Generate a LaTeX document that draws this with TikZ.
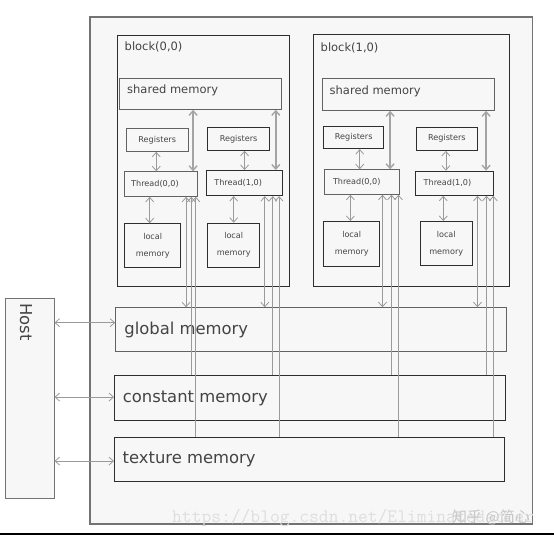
\documentclass[tikz,border=0pt]{standalone}
\usepackage{fontspec}
\setmainfont{DejaVu Sans}
\newfontfamily\cjk{Noto Sans CJK SC}
\usetikzlibrary{arrows.meta}
\definecolor{txt}{HTML}{444444}
\definecolor{edge}{HTML}{2E2E2E}
\definecolor{conn}{HTML}{9A9A9A}
\tikzset{
  box/.style={draw=edge, line width=0.8pt, inner sep=0pt, anchor=north west, text=txt},
  gbox/.style={box, draw=edge!75},
  small/.style={font=\fontsize{8.1}{17}\selectfont, text=txt, inner sep=0pt},
  mid/.style={font=\fontsize{11.5}{14}\selectfont, text=txt, inner sep=0pt, anchor=west},
  big/.style={font=\fontsize{16.4}{19}\selectfont, text=txt, inner sep=0pt, anchor=west},
  tip/.tip={Straight Barb[length=4.5pt,width=8pt]},
  dbl/.style={draw=conn, line width=0.8pt, {tip}-{tip}},
  upar/.style={draw=conn, line width=0.8pt, {tip}-},
  thick dbl/.style={draw=conn!90, line width=1.4pt, {tip}-{tip}}
}
\begin{document}
\begin{tikzpicture}[x=1pt,y=-1pt]
\useasboundingbox (0,0) rectangle (554,535);
\fill[white] (0,0) rectangle (554,535);
% outer device box
\node[box, draw=black!55, line width=1.6pt, fill=black!3, minimum width=442.5pt, minimum height=507pt] (dev) at (89,16) {};
% blocks
\node[box, fill=black!3, minimum width=171.7pt, minimum height=251pt] (b0) at (117.3,35) {};
\node[box, fill=black!3, minimum width=196.6pt, minimum height=251.7pt] (b1) at (312.7,34.3) {};
\node[mid] (lb0) at (124.5,47) {block(0,0)};
\node[mid] (lb1) at (320.5,47.5) {block(1,0)};
% shared memory
\node[gbox, minimum width=161.7pt, minimum height=30.7pt] (sh0) at (119.3,78.3) {};
\node[gbox, minimum width=172.6pt, minimum height=31.7pt] (sh1) at (321.7,78.3) {};
\node[mid] (sht0) at (127,90.5) {shared memory};
\node[mid] (sht1) at (329.5,91.5) {shared memory};
% registers
\node[gbox, small, minimum width=61.7pt, minimum height=23pt] (r00) at (126,128) {Registers};
\node[box, small, minimum width=62.3pt, minimum height=23pt] (r01) at (207,127) {Registers};
\node[box, small, minimum width=60pt, minimum height=22.3pt] (r10) at (323.3,126) {Registers};
\node[box, small, minimum width=60.4pt, minimum height=23.3pt] (r11) at (416.3,126.7) {Registers};
% threads
\node[gbox, minimum width=72.4pt, minimum height=24.7pt] (t00) at (124.3,171.3) {};
\node[box, minimum width=76pt, minimum height=25.3pt] (t01) at (205.7,170) {};
\node[gbox, minimum width=75pt, minimum height=24.7pt] (t10) at (324.3,169.3) {};
\node[box, minimum width=78.3pt, minimum height=24.3pt] (t11) at (415,170.7) {};
\node[small, anchor=west] (tt00) at ([xshift=6.7pt]t00.west) {Thread(0,0)};
\node[small, anchor=west] (tt01) at ([xshift=8.5pt]t01.west) {Thread(1,0)};
\node[small, anchor=west] (tt10) at ([xshift=8.5pt]t10.west) {Thread(0,0)};
\node[small, anchor=west] (tt11) at ([xshift=8.5pt]t11.west) {Thread(1,0)};
% local memory
\node[box, small, align=center, minimum width=56pt, minimum height=44pt] (l00) at (124.3,223.3) {local\\memory};
\node[box, small, align=center, minimum width=52pt, minimum height=44pt] (l01) at (207.3,222.7) {local\\memory};
\node[box, small, align=center, minimum width=56pt, minimum height=45pt] (l10) at (323.3,221) {local\\memory};
\node[box, small, align=center, minimum width=52.3pt, minimum height=44pt] (l11) at (419.7,221) {local\\memory};
% memories
\node[gbox, minimum width=391.2pt, minimum height=44pt] (glob) at (115.2,307.3) {};
\node[box, minimum width=391.2pt, minimum height=44.7pt] (cons) at (114.1,375.3) {};
\node[box, minimum width=390.2pt, minimum height=43.7pt] (tex) at (114,437.3) {};
\node[big] (globt) at ([xshift=9pt]glob.west) {global memory};
\node[big] (const) at ([xshift=8.5pt]cons.west) {constant memory};
\node[big] (text) at ([xshift=8.5pt]tex.west) {texture memory};
% host
\node[gbox, draw=black!55, fill=black!3, minimum width=48.4pt, minimum height=199.7pt] (host) at (5.3,298.3) {};
\node[font=\fontsize{16.4}{19}\selectfont, text=txt, inner sep=0pt, rotate=-90, anchor=base west] (hostt) at (20,303) {Host};
% shared <-> thread
\draw[thick dbl] ([xshift=-4.4pt]t00.north east) -- ([xshift=-4.4pt]t00.north east |- sh0.south);
\draw[thick dbl] ([xshift=-6.7pt]t01.north east) -- ([xshift=-6.7pt]t01.north east |- sh0.south);
\draw[thick dbl] ([xshift=-10pt]t10.north east) -- ([xshift=-10pt]t10.north east |- sh1.south);
\draw[thick dbl] ([xshift=-8pt]t11.north east) -- ([xshift=-8pt]t11.north east |- sh1.south);
% registers <-> thread
\draw[dbl] ([xshift=-1pt]r00.south) -- ([xshift=-1pt]r00.south |- t00.north);
\draw[dbl] ([xshift=6pt]r01.south) -- ([xshift=6pt]r01.south |- t01.north);
\draw[dbl] ([xshift=6pt]r10.south) -- ([xshift=6pt]r10.south |- t10.north);
\draw[dbl] ([xshift=-1pt]r11.south) -- ([xshift=-1pt]r11.south |- t11.north);
% thread <-> local
\draw[dbl] ([xshift=-3pt]l00.north) -- ([xshift=-3pt]l00.north |- t00.south);
\draw[dbl] (l01.north) -- (l01.north |- t01.south);
\draw[dbl] ([xshift=-1.3pt]l10.north) -- ([xshift=-1.3pt]l10.north |- t10.south);
\draw[dbl] ([xshift=-3pt]l11.north) -- ([xshift=-3pt]l11.north |- t11.south);
% thread <-> global / constant / texture
\draw[dbl] ([xshift=-11.4pt]t00.south east) -- ([xshift=-11.4pt]t00.south east |- glob.north);
\draw[upar] ([xshift=-6.2pt]t00.south east) -- ([xshift=-6.2pt]t00.south east |- cons.north);
\draw[upar] ([xshift=-1.7pt]t00.south east) -- ([xshift=-1.7pt]t00.south east |- tex.north);
\draw[dbl] ([xshift=-17.7pt]t01.south east) -- ([xshift=-17.7pt]t01.south east |- glob.north);
\draw[upar] ([xshift=-9.7pt]t01.south east) -- ([xshift=-9.7pt]t01.south east |- cons.north);
\draw[upar] ([xshift=-3.4pt]t01.south east) -- ([xshift=-3.4pt]t01.south east |- tex.north);
\draw[dbl] ([xshift=-17.6pt]t10.south east) -- ([xshift=-17.6pt]t10.south east |- glob.north);
\draw[upar] ([xshift=-8.6pt]t10.south east) -- ([xshift=-8.6pt]t10.south east |- cons.north);
\draw[upar] ([xshift=-1.6pt]t10.south east) -- ([xshift=-1.6pt]t10.south east |- tex.north);
\draw[dbl] ([xshift=-16.6pt]t11.south east) -- ([xshift=-16.6pt]t11.south east |- glob.north);
\draw[upar] ([xshift=-7.6pt]t11.south east) -- ([xshift=-7.6pt]t11.south east |- cons.north);
\draw[upar] ([xshift=-0.8pt]t11.south east) -- ([xshift=-0.8pt]t11.south east |- tex.north);
% host <-> memories
\draw[dbl] ([yshift=7pt]glob.west) -- ([yshift=7pt]glob.west -| host.east);
\draw[dbl] ([yshift=1pt]cons.west) -- ([yshift=1pt]cons.west -| host.east);
\draw[dbl] ([yshift=-1.5pt]tex.west) -- ([yshift=-1.5pt]tex.west -| host.east);
% watermark
\node[font=\ttfamily\fontsize{19}{19}\selectfont, text=black!13, inner sep=0pt, anchor=base west] (wm) at (172,522) {https://blog.csdn.net/Eliminatedacmer};
\node[font=\cjk\fontsize{15}{15}\selectfont, text=black!22, inner sep=0pt, anchor=base west] (wm2) at (452,522) {知乎 @简心};
% bottom rule
\draw[black, line width=2pt] (0,533.5) -- (554,533.5);
\end{tikzpicture}
\end{document}
